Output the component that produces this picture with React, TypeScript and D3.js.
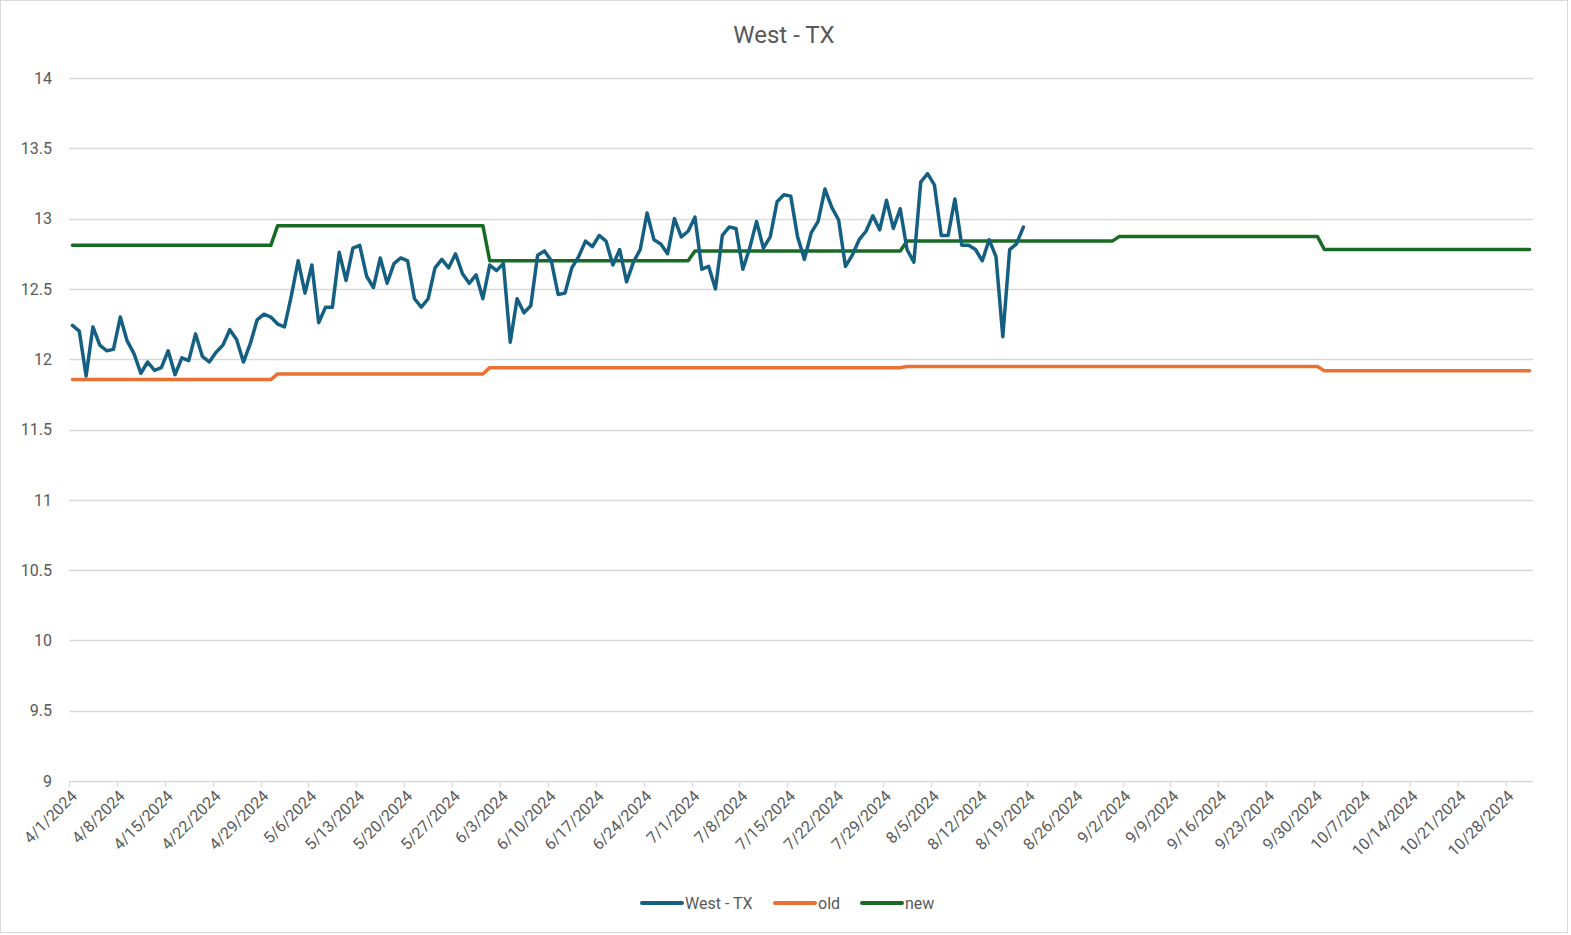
import React, { useRef, useEffect } from 'react';
import * as d3 from 'd3';

// daily West - TX values, starting 4/1/2024
const westStart = '2024-04-01';
const westValues = [
  12.24, 12.2, 11.88, 12.23, 12.1, 12.06, 12.07, 12.3, 12.13, 12.04,
  11.9, 11.98, 11.92, 11.94, 12.06, 11.89, 12.01, 11.99, 12.18, 12.02,
  11.98, 12.05, 12.1, 12.21, 12.14, 11.98, 12.11, 12.28, 12.32, 12.3,
  12.25, 12.23, 12.45, 12.7, 12.47, 12.67, 12.26, 12.37, 12.37, 12.76,
  12.56, 12.79, 12.81, 12.59, 12.51, 12.72, 12.54, 12.68, 12.72, 12.7,
  12.43, 12.37, 12.43, 12.65, 12.71, 12.65, 12.75, 12.61, 12.54, 12.6,
  12.43, 12.67, 12.63, 12.68, 12.12, 12.43, 12.33, 12.38, 12.74, 12.77,
  12.7, 12.46, 12.47, 12.65, 12.73, 12.84, 12.8, 12.88, 12.84, 12.67,
  12.78, 12.55, 12.69, 12.78, 13.04, 12.85, 12.82, 12.75, 13.0, 12.87,
  12.91, 13.01, 12.64, 12.66, 12.5, 12.88, 12.94, 12.93, 12.64, 12.79,
  12.98, 12.79, 12.87, 13.12, 13.17, 13.16, 12.87, 12.71, 12.9, 12.98,
  13.21, 13.08, 12.99, 12.66, 12.74, 12.85, 12.91, 13.02, 12.92, 13.13,
  12.93, 13.07, 12.78, 12.69, 13.26, 13.32, 13.24, 12.88, 12.88, 13.14,
  12.81, 12.81, 12.78, 12.7, 12.85, 12.73, 12.16, 12.78, 12.82, 12.94,
];

// monthly reference levels (held for the whole month)
const monthStarts = ['2024-04-01', '2024-05-01', '2024-06-01', '2024-07-01', '2024-08-01', '2024-09-01', '2024-10-01'];
const seriesEnd = '2024-10-31';
const oldValues = [11.855, 11.895, 11.94, 11.94, 11.948, 11.948, 11.917];
const newValues = [12.81, 12.95, 12.7, 12.77, 12.84, 12.872, 12.78];

const yTicks = [9, 9.5, 10, 10.5, 11, 11.5, 12, 12.5, 13, 13.5, 14];
const axisStart = '2024-04-01';
const axisEnd = '2024-11-01';

const seriesNames = ['West - TX', 'old', 'new'];
const seriesColors = ['#156082', '#E97132', '#196B24'];

const parse = d3.timeParse('%Y-%m-%d');

const Chart: React.FC = () => {
  const svgRef = useRef<SVGSVGElement>(null);
  const width = 1571;
  const height = 935;

  useEffect(() => {
    if (!svgRef.current) return;
    const root = d3.select(svgRef.current);
    root.selectAll('*').remove();

    const left = 69;
    const right = 1533;
    const top = 78;
    const bottom = 781;
    const font = 'Roboto, "Liberation Sans", sans-serif';
    const textColor = '#595959';

    root.append('rect')
      .attr('x', 0.5).attr('y', 0.5)
      .attr('width', 1567).attr('height', 932)
      .attr('fill', '#fff')
      .attr('stroke', '#d9d9d9');

    // date axis, each day is a slot; points sit in the middle of their day
    const x = d3.scaleTime()
      .domain([parse(axisStart)!, parse(axisEnd)!])
      .range([left, right]);
    const xMid = (d: Date) => x(d3.timeHour.offset(d, 12));
    const y = d3.scaleLinear().domain([9, 14]).range([bottom, top]);

    // gridlines + y labels
    const grid = root.append('g');
    grid.selectAll('line')
      .data(yTicks.filter((t) => t !== 9))
      .enter()
      .append('line')
      .attr('x1', left).attr('x2', right)
      .attr('y1', (d) => Math.round(y(d)) + 0.5)
      .attr('y2', (d) => Math.round(y(d)) + 0.5)
      .attr('stroke', '#d9d9d9')
      .attr('stroke-width', 1.3);

    grid.selectAll('text')
      .data(yTicks)
      .enter()
      .append('text')
      .attr('x', 52)
      .attr('y', (d) => y(d))
      .attr('dy', '0.36em')
      .attr('text-anchor', 'end')
      .style('font-family', font)
      .style('font-size', '16px')
      .attr('fill', textColor)
      .text((d) => d3.format('')(d));

    // x axis
    const weekTicks = d3.timeDay.range(parse(axisStart)!, parse(axisEnd)!, 7);
    const xAxis = root.append('g');
    xAxis.append('line')
      .attr('x1', left).attr('x2', right)
      .attr('y1', bottom + 0.5).attr('y2', bottom + 0.5)
      .attr('stroke', '#d9d9d9')
      .attr('stroke-width', 1.3);
    xAxis.selectAll('.tick')
      .data(weekTicks)
      .enter()
      .append('line')
      .attr('class', 'tick')
      .attr('x1', (d) => Math.round(x(d)) + 0.5)
      .attr('x2', (d) => Math.round(x(d)) + 0.5)
      .attr('y1', bottom)
      .attr('y2', bottom + 6)
      .attr('stroke', '#d9d9d9')
      .attr('stroke-width', 1.3);
    xAxis.selectAll('.lbl')
      .data(weekTicks)
      .enter()
      .append('text')
      .attr('class', 'lbl')
      .attr('transform', (d) => `translate(${x(d) + 5}, ${bottom + 12}) rotate(-45)`)
      .attr('dy', '0.36em')
      .attr('text-anchor', 'end')
      .style('font-family', font)
      .style('font-size', '16px')
      .attr('fill', textColor)
      .text((d) => d3.timeFormat('%-m/%-d/%Y')(d));

    // series
    const line = d3.line<[Date, number]>()
      .x((d) => xMid(d[0]))
      .y((d) => y(d[1]));

    const start = parse(westStart)!;
    const westPts: [Date, number][] = westValues.map((v, i) => [d3.timeDay.offset(start, i), v]);

    const stepPts = (vals: number[]): [Date, number][] => {
      const pts: [Date, number][] = [];
      vals.forEach((v, i) => {
        const s = parse(monthStarts[i])!;
        const e = i < monthStarts.length - 1
          ? d3.timeDay.offset(parse(monthStarts[i + 1])!, -1)
          : parse(seriesEnd)!;
        pts.push([s, v], [e, v]);
      });
      return pts;
    };

    const seriesPts = [westPts, stepPts(oldValues), stepPts(newValues)];
    // draw order: old, new, west on top
    [1, 2, 0].forEach((k) => {
      root.append('path')
        .attr('d', line(seriesPts[k]))
        .attr('fill', 'none')
        .attr('stroke', seriesColors[k])
        .attr('stroke-width', 3.5)
        .attr('stroke-linejoin', 'round')
        .attr('stroke-linecap', 'round');
    });

    // title
    root.append('text')
      .attr('x', 784)
      .attr('y', 43)
      .attr('text-anchor', 'middle')
      .style('font-family', font)
      .style('font-size', '24px')
      .attr('fill', textColor)
      .text('West - TX');

    // legend
    const legendX = [640, 773, 860];
    const legend = root.append('g');
    seriesNames.forEach((name, i) => {
      legend.append('line')
        .attr('x1', legendX[i] + 2).attr('x2', legendX[i] + 42)
        .attr('y1', 903).attr('y2', 903)
        .attr('stroke', seriesColors[i])
        .attr('stroke-width', 4)
        .attr('stroke-linecap', 'round');
      legend.append('text')
        .attr('x', legendX[i] + 45)
        .attr('y', 909)
        .style('font-family', font)
        .style('font-size', '16px')
        .attr('fill', textColor)
        .text(name);
    });
  }, []);

  return (
    <div style={{ position: 'absolute', left: 0, top: 0, background: '#fff' }}>
      <svg ref={svgRef} width={width} height={height} style={{ display: 'block' }} />
    </div>
  );
};

export default function App() {
  return <Chart />;
}
